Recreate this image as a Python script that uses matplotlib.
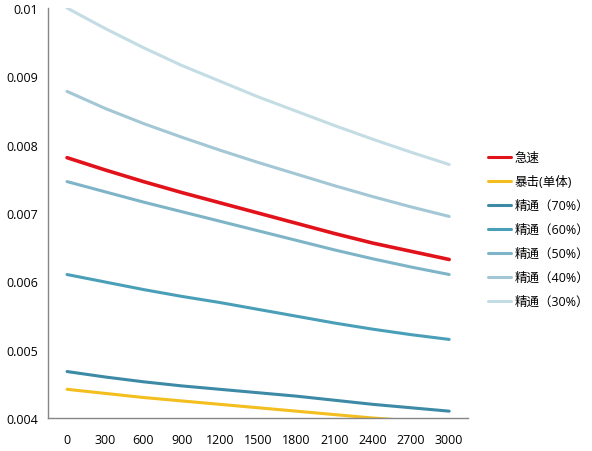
import matplotlib
matplotlib.use("Agg")
import matplotlib.pyplot as plt
import numpy as np

plt.rcParams['font.family'] = ['Open Sans', 'Noto Sans CJK SC', 'DejaVu Sans']

# data
x_labels = ['0', '300', '600', '900', '1200', '1500', '1800', '2100', '2400', '2700', '3000']

jisu = [0.00781, 0.00763, 0.00746, 0.00730, 0.00715, 0.00700,
        0.00685, 0.00670, 0.00656, 0.00644, 0.00632]
baoji = [0.00442, 0.00436, 0.00430, 0.00425, 0.00420, 0.00415,
         0.00410, 0.00405, 0.00400, 0.00396, 0.00392]
jt70 = [0.00468, 0.00460, 0.00453, 0.00447, 0.00442, 0.00437,
        0.00432, 0.00426, 0.00420, 0.00415, 0.00410]
jt60 = [0.00610, 0.00599, 0.00588, 0.00578, 0.00569, 0.00559,
        0.00549, 0.00539, 0.00530, 0.00522, 0.00515]
jt50 = [0.00746, 0.00731, 0.00716, 0.00702, 0.00688, 0.00674,
        0.00660, 0.00646, 0.00633, 0.00621, 0.00610]
jt40 = [0.00878, 0.00853, 0.00831, 0.00811, 0.00792, 0.00774,
        0.00757, 0.00740, 0.00724, 0.00709, 0.00695]
jt30 = [0.01000, 0.00970, 0.00942, 0.00916, 0.00893, 0.00870,
        0.00849, 0.00828, 0.00808, 0.00789, 0.00771]

series = [
    ('急速', jisu, '#E2121B', 2.6),
    ('暴击(单体)', baoji, '#F3BE1E', 2.2),
    ('精通（70%）', jt70, '#3D8AA6', 2.2),
    ('精通（60%）', jt60, '#4A9FB8', 2.2),
    ('精通（50%）', jt50, '#7EB4C7', 2.2),
    ('精通（40%）', jt40, '#A3C7D4', 2.2),
    ('精通（30%）', jt30, '#C4DCE4', 2.2),
]

fig = plt.figure(figsize=(5.92, 4.52), dpi=100)
ax = fig.add_axes([0.081, 0.073, 0.710, 0.907])

pos = np.arange(len(x_labels))
for name, vals, col, lw in series:
    ax.plot(pos, vals, color=col, lw=lw, label=name, solid_capstyle='round')

ax.set_xlim(-0.5, len(x_labels) - 0.5)
ax.set_ylim(0.004, 0.01)
ax.set_xticks(pos)
ax.set_xticklabels(x_labels)
yt = [0.004, 0.005, 0.006, 0.007, 0.008, 0.009, 0.01]
ax.set_yticks(yt)
ax.set_yticklabels(['0.004', '0.005', '0.006', '0.007', '0.008', '0.009', '0.01'])
ax.tick_params(length=0, labelsize=9, colors='black')
ax.tick_params(axis='x', pad=11)
ax.tick_params(axis='y', pad=7)

for s in ['top', 'right']:
    ax.spines[s].set_visible(False)
for s in ['left', 'bottom']:
    ax.spines[s].set_color('#868686')
    ax.spines[s].set_linewidth(1.0)

leg = ax.legend(loc='upper left', bbox_to_anchor=(1.0, 0.70), frameon=False,
                fontsize=9, handlelength=1.8, handletextpad=0.3,
                labelspacing=0.88, borderaxespad=1.2)
for line in leg.get_lines():
    line.set_linewidth(2.2)

fig.savefig('out.png', dpi=100)
